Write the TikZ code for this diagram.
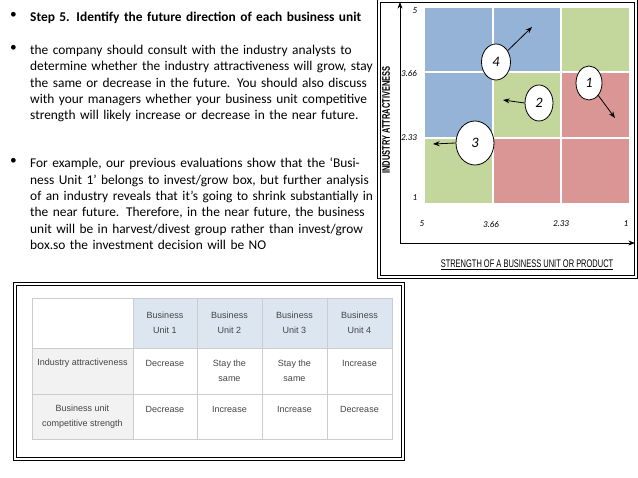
\documentclass[tikz,border=0pt]{standalone}
\usepackage{fontspec}
\setmainfont{Carlito}
\newfontfamily\tabfont{Liberation Sans}
\newfontfamily\axfont{Liberation Sans}[FakeStretch=0.68]
\usetikzlibrary{positioning,arrows.meta,shapes.geometric}
\definecolor{cellblue}{HTML}{95B3D7}
\definecolor{cellgreen}{HTML}{C3D69B}
\definecolor{cellred}{HTML}{D99694}
\definecolor{headblue}{HTML}{DCE6F1}
\definecolor{rowgray}{HTML}{F2F2F2}
\definecolor{tabtext}{HTML}{444444}
\tikzset{
  bodytext/.style={anchor=north west, align=left, text width=#1, inner sep=0pt,
    font=\fontsize{13.4}{16.3}\selectfont},
  bullet/.style={anchor=north west, inner sep=0pt, font=\fontsize{13.4}{16.3}\selectfont},
  unit/.style={draw, ellipse, fill=white, thick, inner sep=0pt, font=\Large\itshape},
  tick/.style={font=\small\itshape},
  tabcell/.style={font=\tabfont\fontsize{9}{15}\selectfont, text=tabtext, align=center},
  frame/.style={draw, line width=1.3pt, double, double distance=1.2pt}
}
\begin{document}
\begin{tikzpicture}[x=1pt,y=-1pt]
\useasboundingbox (0,0) rectangle (638,478);
% text
\node[bullet] (b1) at (10,12) {•};
\node[bodytext=350pt] (t1) at (30,12) {\textbf{Step 5. Identify the future direction of each business unit}};
\node[bullet] (b2) at (10,45) {•};
\node[bodytext=345pt] (t2) at (30,45) {the company should consult with the industry analysts to determine whether the industry attractiveness will grow, stay the same or decrease in the future. You should also discuss with your managers whether your business unit competitive strength will likely increase or decrease in the near future.};
\node[bullet] (b3) at (10,158) {•};
\node[bodytext=345pt] (t3) at (30,158) {For example, our previous evaluations show that the ‘Business Unit 1’ belongs to invest/grow box, but further analysis of an industry reveals that it’s going to shrink substantially in the near future. Therefore, in the near future, the business unit will be in harvest/divest group rather than invest/grow box.so the investment decision will be NO};
% chart frame
\draw[frame] (379,1) rectangle (636,277);
% cells
\fill[cellblue] (425,8) rectangle (493,72);
\fill[cellblue] (493,8) rectangle (561,72);
\fill[cellgreen] (561,8) rectangle (629,72);
\fill[cellblue] (425,72) rectangle (493,138);
\fill[cellgreen] (493,72) rectangle (561,138);
\fill[cellred] (561,72) rectangle (629,138);
\fill[cellgreen] (425,138) rectangle (493,203);
\fill[cellred] (493,138) rectangle (561,203);
\fill[cellred] (561,138) rectangle (629,203);
\draw[white, line width=1.5pt] (493,8) -- (493,203) (561,8) -- (561,203)
  (425,72) -- (629,72) (425,138) -- (629,138);
% axes
\coordinate (o) at (400,243);
\draw[thick,-{Stealth}] (o) -- (400,2);
\draw[thick,-{Stealth}] (o) -- (635,243);
\node[rotate=90, font=\axfont\bfseries\fontsize{11}{11}\selectfont] (ylab) at (386,120) {INDUSTRY ATTRACTIVENESS};
\node[font=\axfont\fontsize{11}{11}\selectfont] (xlab) at (527,265) {\underline{STRENGTH OF A BUSINESS UNIT OR PRODUCT}};
\node[tick] (y5) at (415,11) {5};
\node[tick] (y366) at (409,73) {3.66};
\node[tick] (y233) at (409,138) {2.33};
\node[tick] (y1) at (415,198) {1};
\node[tick] (x5) at (422,224) {5};
\node[tick] (x366) at (491,224) {3.66};
\node[tick] (x233) at (561,224) {2.33};
\node[tick] (x1) at (626,224) {1};
% units
\node[unit, minimum width=29pt, minimum height=36pt] (u4) at (496,62) {4};
\node[unit, minimum width=26pt, minimum height=34pt] (u1) at (589,83) {1};
\node[unit, minimum width=28pt, minimum height=36pt] (u2) at (539,103) {2};
\node[unit, minimum width=38pt, minimum height=44pt] (u3) at (475,143) {3};
\coordinate (a4) at (532,27);
\coordinate (a1) at (615,118);
\coordinate (a2) at (503,100);
\coordinate (a3) at (433,144);
\draw[thick,-{Stealth}] (u4) -- (a4);
\draw[thick,-{Stealth}] (u1) -- (a1);
\draw[thick,-{Stealth}] (u2.west) -- (a2);
\draw[thick,-{Stealth}] (u3.west) -- (a3);
% table
\draw[frame] (15,284) rectangle (403,459);
\fill[headblue] (133,298) rectangle (392,348);
\fill[rowgray] (32,348) rectangle (133,439);
\draw[gray!40] (32,298) rectangle (392,439);
\foreach \x in {133,197,262,327} \draw[gray!40] (\x,298) -- (\x,439);
\foreach \y in {348,394} \draw[gray!40] (32,\y) -- (392,\y);
\foreach \n/\x in {1/165,2/229.5,3/294.5,4/359.5}
  \node[tabcell] (h\n) at (\x,323) {Business\\Unit \n};
\node[tabcell] (r1) at (82.5,363) {Industry attractiveness};
\node[tabcell] (r2) at (82.5,417) {Business unit\\competitive strength};
\node[tabcell] (c11) at (165,363) {Decrease};
\node[tabcell] (c12) at (229.5,371) {Stay the\\same};
\node[tabcell] (c13) at (294.5,371) {Stay the\\same};
\node[tabcell] (c14) at (359.5,363) {Increase};
\node[tabcell] (c21) at (165,409) {Decrease};
\node[tabcell] (c22) at (229.5,409) {Increase};
\node[tabcell] (c23) at (294.5,409) {Increase};
\node[tabcell] (c24) at (359.5,409) {Decrease};
\end{tikzpicture}
\end{document}
